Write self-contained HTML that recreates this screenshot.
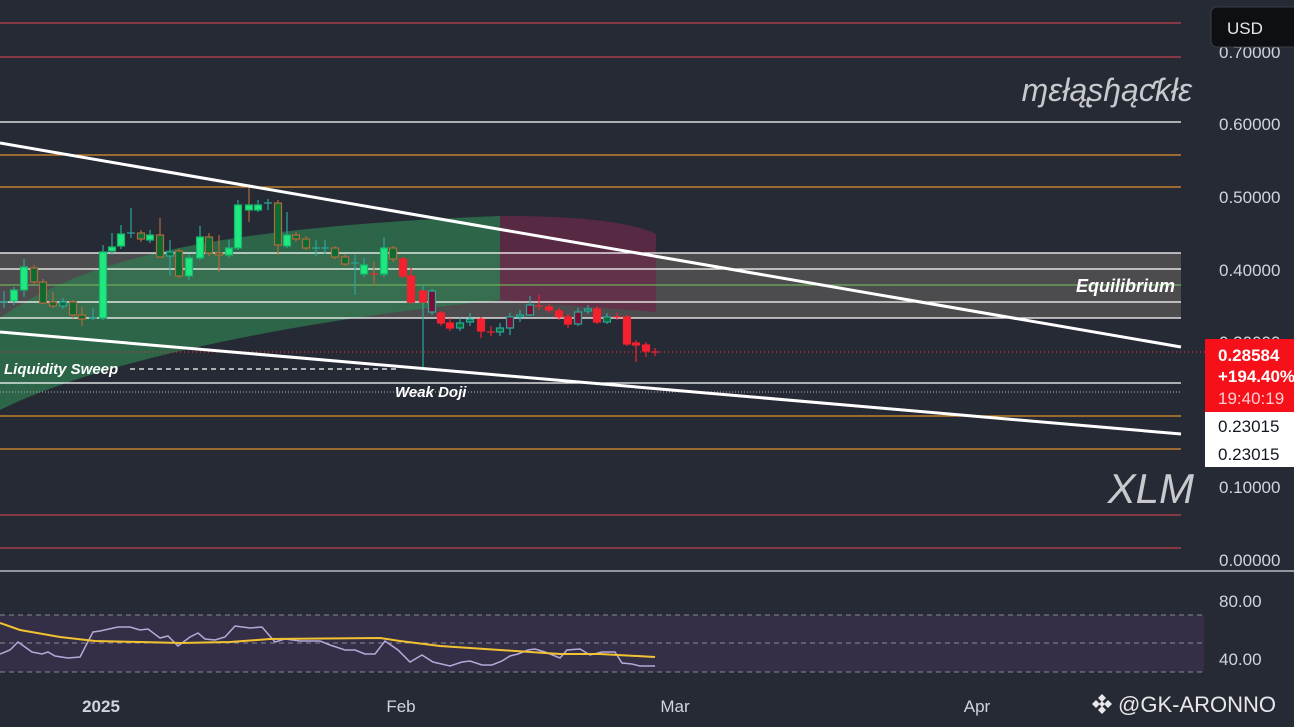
<!DOCTYPE html>
<html><head><meta charset="utf-8"><style>
body{margin:0;background:#262a35;width:1294px;height:727px;overflow:hidden;font-family:"Liberation Sans",sans-serif}
svg{position:absolute;left:0;top:0}
</style></head><body>
<svg width="1294" height="727" viewBox="0 0 1294 727" xmlns="http://www.w3.org/2000/svg">
<rect width="1294" height="727" fill="#262a35"/>
<rect x="0" y="253" width="1181" height="65" fill="#4c4c4f"/>
<path d="M0,318 C80,262 200,228 500,216 L500,300 C300,320 100,360 0,410 Z" fill="#2f7a4f" fill-opacity="0.75"/>
<path d="M500,216 C580,216 630,222 656,234 L656,312 L500,300 Z" fill="#6a2a48" fill-opacity="0.75"/>
<g stroke-width="1.2">
<line x1="0" y1="23" x2="1181" y2="23" stroke="#c0404f"/>
<line x1="0" y1="57" x2="1181" y2="57" stroke="#c0404f"/>
<line x1="0" y1="122" x2="1181" y2="122" stroke="#ffffff"/>
<line x1="0" y1="155" x2="1181" y2="155" stroke="#e0902a"/>
<line x1="0" y1="187" x2="1181" y2="187" stroke="#e0902a"/>
<line x1="0" y1="253" x2="1181" y2="253" stroke="#ffffff"/>
<line x1="0" y1="269" x2="1181" y2="269" stroke="#ffffff"/>
<line x1="0" y1="285" x2="1181" y2="285" stroke="#6fae5a"/>
<line x1="0" y1="302" x2="1181" y2="302" stroke="#ffffff"/>
<line x1="0" y1="318" x2="1181" y2="318" stroke="#ffffff"/>
<line x1="0" y1="383" x2="1181" y2="383" stroke="#ffffff"/>
<line x1="0" y1="392" x2="1181" y2="392" stroke="#9a9ca3" stroke-dasharray="1,2"/>
<line x1="0" y1="416" x2="1181" y2="416" stroke="#e0902a"/>
<line x1="0" y1="449" x2="1181" y2="449" stroke="#e0902a"/>
<line x1="0" y1="515" x2="1181" y2="515" stroke="#c0404f"/>
<line x1="0" y1="548" x2="1181" y2="548" stroke="#c0404f"/>
<line x1="0" y1="352" x2="1205" y2="352" stroke="#e0303a" stroke-dasharray="1,3"/>
<line x1="0" y1="571" x2="1294" y2="571" stroke="#d8d8dc"/>
<line x1="130" y1="369" x2="400" y2="369" stroke="#ffffff" stroke-dasharray="5,4"/>
</g>
<g stroke-width="1.2">
<g stroke="#2aa79b">
<line x1="4" y1="291" x2="4" y2="308"/><line x1="14" y1="287" x2="14" y2="305"/><line x1="24" y1="259" x2="24" y2="297"/>
<line x1="63" y1="298" x2="63" y2="309"/><line x1="93" y1="308" x2="93" y2="320"/><line x1="103" y1="245" x2="103" y2="320"/>
<line x1="112" y1="233" x2="112" y2="255"/><line x1="121" y1="225" x2="121" y2="249"/><line x1="131" y1="208" x2="131" y2="238"/>
<line x1="150" y1="230" x2="150" y2="243"/><line x1="170" y1="240" x2="170" y2="276"/><line x1="189" y1="255" x2="189" y2="280"/>
<line x1="200" y1="226" x2="200" y2="260"/><line x1="229" y1="240" x2="229" y2="258"/><line x1="238" y1="200" x2="238" y2="250"/>
<line x1="258" y1="200" x2="258" y2="212"/><line x1="268" y1="199" x2="268" y2="210"/><line x1="287" y1="212" x2="287" y2="248"/>
<line x1="316" y1="240" x2="316" y2="256"/><line x1="325" y1="240" x2="325" y2="254"/><line x1="355" y1="255" x2="355" y2="295"/>
<line x1="364" y1="258" x2="364" y2="277"/><line x1="384" y1="237" x2="384" y2="277"/><line x1="423" y1="285" x2="423" y2="369"/>
<line x1="432" y1="289" x2="432" y2="315"/><line x1="460" y1="318" x2="460" y2="331"/><line x1="470" y1="313" x2="470" y2="326"/>
<line x1="500" y1="323" x2="500" y2="336"/><line x1="510" y1="313" x2="510" y2="335"/><line x1="520" y1="310" x2="520" y2="322"/>
<line x1="530" y1="296" x2="530" y2="316"/><line x1="578" y1="308" x2="578" y2="326"/><line x1="588" y1="305" x2="588" y2="314"/>
<line x1="607" y1="313" x2="607" y2="324"/>
</g>
<g stroke="#b06a3c">
<line x1="34" y1="265" x2="34" y2="284"/><line x1="43" y1="279" x2="43" y2="304"/><line x1="53" y1="292" x2="53" y2="308"/>
<line x1="73" y1="300" x2="73" y2="318"/><line x1="82" y1="307" x2="82" y2="326"/><line x1="141" y1="230" x2="141" y2="242"/>
<line x1="160" y1="218" x2="160" y2="258"/><line x1="179" y1="249" x2="179" y2="278"/><line x1="209" y1="233" x2="209" y2="256"/>
<line x1="219" y1="235" x2="219" y2="272"/><line x1="249" y1="186" x2="249" y2="222"/><line x1="278" y1="200" x2="278" y2="255"/>
<line x1="296" y1="232" x2="296" y2="242"/><line x1="306" y1="236" x2="306" y2="250"/><line x1="335" y1="246" x2="335" y2="259"/>
<line x1="345" y1="254" x2="345" y2="266"/><line x1="374" y1="262" x2="374" y2="286"/><line x1="393" y1="246" x2="393" y2="262"/>
</g>
<g stroke="#f5212f">
<line x1="403" y1="257" x2="403" y2="278"/><line x1="411" y1="268" x2="411" y2="304"/><line x1="441" y1="311" x2="441" y2="326"/>
<line x1="450" y1="318" x2="450" y2="331"/><line x1="481" y1="317" x2="481" y2="338"/><line x1="491" y1="326" x2="491" y2="336"/>
<line x1="539" y1="295" x2="539" y2="310"/><line x1="549" y1="304" x2="549" y2="313"/><line x1="559" y1="308" x2="559" y2="320"/>
<line x1="568" y1="314" x2="568" y2="328"/><line x1="597" y1="306" x2="597" y2="324"/><line x1="617" y1="313" x2="617" y2="320"/>
<line x1="627" y1="315" x2="627" y2="346"/><line x1="636" y1="340" x2="636" y2="362"/><line x1="646" y1="342" x2="646" y2="357"/>
<line x1="655" y1="348" x2="655" y2="356"/>
</g>
<g fill="#1ee880" stroke="#18b56a">
<rect x="10.5" y="290" width="7" height="11"/><rect x="20.5" y="267" width="7" height="23"/><rect x="99.5" y="252" width="7" height="66"/>
<rect x="108.5" y="247" width="7" height="4"/><rect x="117.5" y="234" width="7" height="12"/><rect x="146.5" y="235" width="7" height="5"/>
<rect x="185.5" y="258" width="7" height="18"/><rect x="196.5" y="237" width="7" height="21"/><rect x="225.5" y="248" width="7" height="7"/>
<rect x="234.5" y="205" width="7" height="43"/><rect x="245.5" y="205" width="7" height="5"/><rect x="254.5" y="205" width="7" height="5"/>
<rect x="283.5" y="235" width="7" height="11"/><rect x="360.5" y="265" width="7" height="9"/><rect x="380.5" y="248" width="7" height="26"/>
</g>
<g fill="#0b6b33" stroke="#b06a3c">
<rect x="30.5" y="268" width="7" height="14"/><rect x="39.5" y="282" width="7" height="21"/><rect x="49.5" y="302" width="7" height="4"/>
<rect x="69.5" y="302" width="7" height="13"/><rect x="78.5" y="315" width="7" height="4"/><rect x="137.5" y="233" width="7" height="6"/>
<rect x="156.5" y="235" width="7" height="22"/><rect x="175.5" y="251" width="7" height="25"/><rect x="205.5" y="237" width="7" height="16"/>
<rect x="215.5" y="253" width="7" height="2"/><rect x="274.5" y="203" width="7" height="42"/><rect x="292.5" y="235" width="7" height="4"/>
<rect x="302.5" y="239" width="7" height="9"/><rect x="331.5" y="248" width="7" height="9"/><rect x="341.5" y="257" width="7" height="7"/>
<rect x="389.5" y="248" width="7" height="11"/>
</g>
<g fill="#0b6b33" stroke="#2aa79b">
<rect x="59.5" y="302" width="7" height="4"/><rect x="166.5" y="252" width="7" height="4"/><rect x="456.5" y="323" width="7" height="5"/>
<rect x="466.5" y="319" width="7" height="3"/><rect x="496.5" y="328" width="7" height="4"/><rect x="516.5" y="315" width="7" height="2"/>
<rect x="584.5" y="309" width="7" height="2"/><rect x="603.5" y="317" width="7" height="5"/>
</g>
<g stroke="#2aa79b"><line x1="0" y1="302" x2="8" y2="302"/><line x1="89" y1="318" x2="97" y2="318"/><line x1="127" y1="233" x2="135" y2="233"/>
<line x1="264" y1="203" x2="272" y2="203"/><line x1="312" y1="248" x2="320" y2="248"/><line x1="321" y1="248" x2="329" y2="248"/><line x1="351" y1="263" x2="359" y2="263"/></g>
<g stroke="#f5212f"><line x1="370" y1="274" x2="378" y2="274"/><line x1="487" y1="332" x2="495" y2="332"/><line x1="535" y1="306" x2="543" y2="306"/>
<line x1="613" y1="317" x2="621" y2="317"/><line x1="651" y1="352" x2="659" y2="352"/></g>
<g fill="#f5212f" stroke="#f5212f">
<rect x="399.5" y="259" width="7" height="17"/><rect x="407.5" y="276" width="7" height="26"/><rect x="419.5" y="291" width="7" height="11"/>
<rect x="437.5" y="313" width="7" height="10"/><rect x="446.5" y="323" width="7" height="5"/><rect x="477.5" y="319" width="7" height="12"/>
<rect x="545.5" y="307" width="7" height="3"/><rect x="555.5" y="311" width="7" height="6"/><rect x="564.5" y="317" width="7" height="7"/>
<rect x="593.5" y="309" width="7" height="13"/><rect x="623.5" y="317" width="7" height="27"/><rect x="632.5" y="343" width="7" height="2"/>
<rect x="642.5" y="345" width="7" height="6"/>
</g>
<g fill="#7a0f35" stroke="#2aa79b">
<rect x="428.5" y="291" width="7" height="21"/><rect x="506.5" y="317" width="7" height="11"/><rect x="526.5" y="305" width="7" height="10"/>
<rect x="574.5" y="312" width="7" height="12"/>
</g>
</g>
<line x1="0" y1="143" x2="1181" y2="347" stroke="#ffffff" stroke-width="3"/>
<line x1="0" y1="332" x2="1181" y2="434" stroke="#ffffff" stroke-width="3"/>
<text x="1175" y="292" font-size="18" font-style="italic" font-weight="bold" fill="#ffffff" text-anchor="end">Equilibrium</text>
<text x="4" y="374" font-size="15" font-style="italic" font-weight="bold" fill="#ffffff">Liquidity Sweep</text>
<text x="395" y="397" font-size="15" font-style="italic" font-weight="bold" fill="#ffffff">Weak Doji</text>
<text x="1192" y="101" font-size="32" font-style="italic" fill="#c8c9cd" text-anchor="end">ɱɛłąʂɧąƈƙłɛ</text>
<text x="1194" y="503" font-size="42" font-style="italic" fill="#c8c9cd" text-anchor="end">XLM</text>
<rect x="0" y="615" width="1204" height="57" fill="#342f46"/>
<g stroke="#8a8a95" stroke-dasharray="5,4"><line x1="0" y1="615" x2="1204" y2="615"/><line x1="0" y1="643" x2="1204" y2="643"/><line x1="0" y1="672" x2="1204" y2="672"/></g>
<polyline fill="none" stroke="#b7a8d8" stroke-width="1.5" points="0,654 10,650 18,642 32,652 42,654 48,652 55,656 68,658 80,657 93,632 100,631 118,627 130,627 140,630 148,629 160,638 168,636 178,646 190,637 198,633 205,639 215,640 225,637 235,626 250,628 262,627 275,642 285,639 300,641 320,641 330,645 345,650 355,650 365,654 375,654 385,641 398,650 410,662 422,655 433,662 450,666 462,662 470,661 482,665 492,665 502,661 510,656 518,654 528,650 535,649 545,652 560,658 567,650 580,649 590,655 602,652 615,652 622,663 632,664 640,666 655,666"/>
<polyline fill="none" stroke="#f2c232" stroke-width="2" points="0,623 20,630 60,637 95,641 140,642 180,643 230,642 270,639 380,638 400,641 440,646 500,650 560,654 600,654 655,657"/>
<g font-size="17" fill="#d1d4dc">
<text x="1219" y="58">0.70000</text>
<text x="1219" y="130">0.60000</text>
<text x="1219" y="203">0.50000</text>
<text x="1219" y="276">0.40000</text>
<text x="1219" y="348">0.30000</text>
<text x="1219" y="493">0.10000</text>
<text x="1219" y="566">0.00000</text>
<text x="1219" y="607">80.00</text>
<text x="1219" y="665">40.00</text>
</g>
<rect x="1211" y="7" width="90" height="40" rx="6" fill="#0e0f12" stroke="#3a3d45"/>
<text x="1227" y="34" font-size="17" fill="#e8e8ea">USD</text>
<rect x="1205" y="339" width="89" height="73" fill="#f5101a"/>
<text x="1218" y="361" font-size="17" font-weight="bold" fill="#ffffff">0.28584</text>
<text x="1218" y="382" font-size="17" font-weight="bold" fill="#ffffff">+194.40%</text>
<text x="1218" y="404" font-size="17" fill="#ffd0d0">19:40:19</text>
<rect x="1205" y="412" width="89" height="55" fill="#ffffff"/>
<text x="1218" y="432" font-size="17" fill="#131722">0.23015</text>
<text x="1218" y="460" font-size="17" fill="#131722">0.23015</text>
<g font-size="17" fill="#d1d4dc" text-anchor="middle">
<text x="101" y="712" font-weight="bold">2025</text>
<text x="401" y="712">Feb</text>
<text x="675" y="712">Mar</text>
<text x="977" y="712">Apr</text>
</g>
<g fill="#e8e8ea" transform="translate(1102,704)">
<path d="M0,-10 L4,-6 L0,-2 L-4,-6Z M0,2 L4,6 L0,10 L-4,6Z M-6,-4 L-2,0 L-6,4 L-10,0Z M6,-4 L10,0 L6,4 L2,0Z M0,-3 L3,0 L0,3 L-3,0Z"/>
</g>
<text x="1118" y="712" font-size="22" fill="#e8e8ea">@GK-ARONNO</text>
</svg>
</body></html>
